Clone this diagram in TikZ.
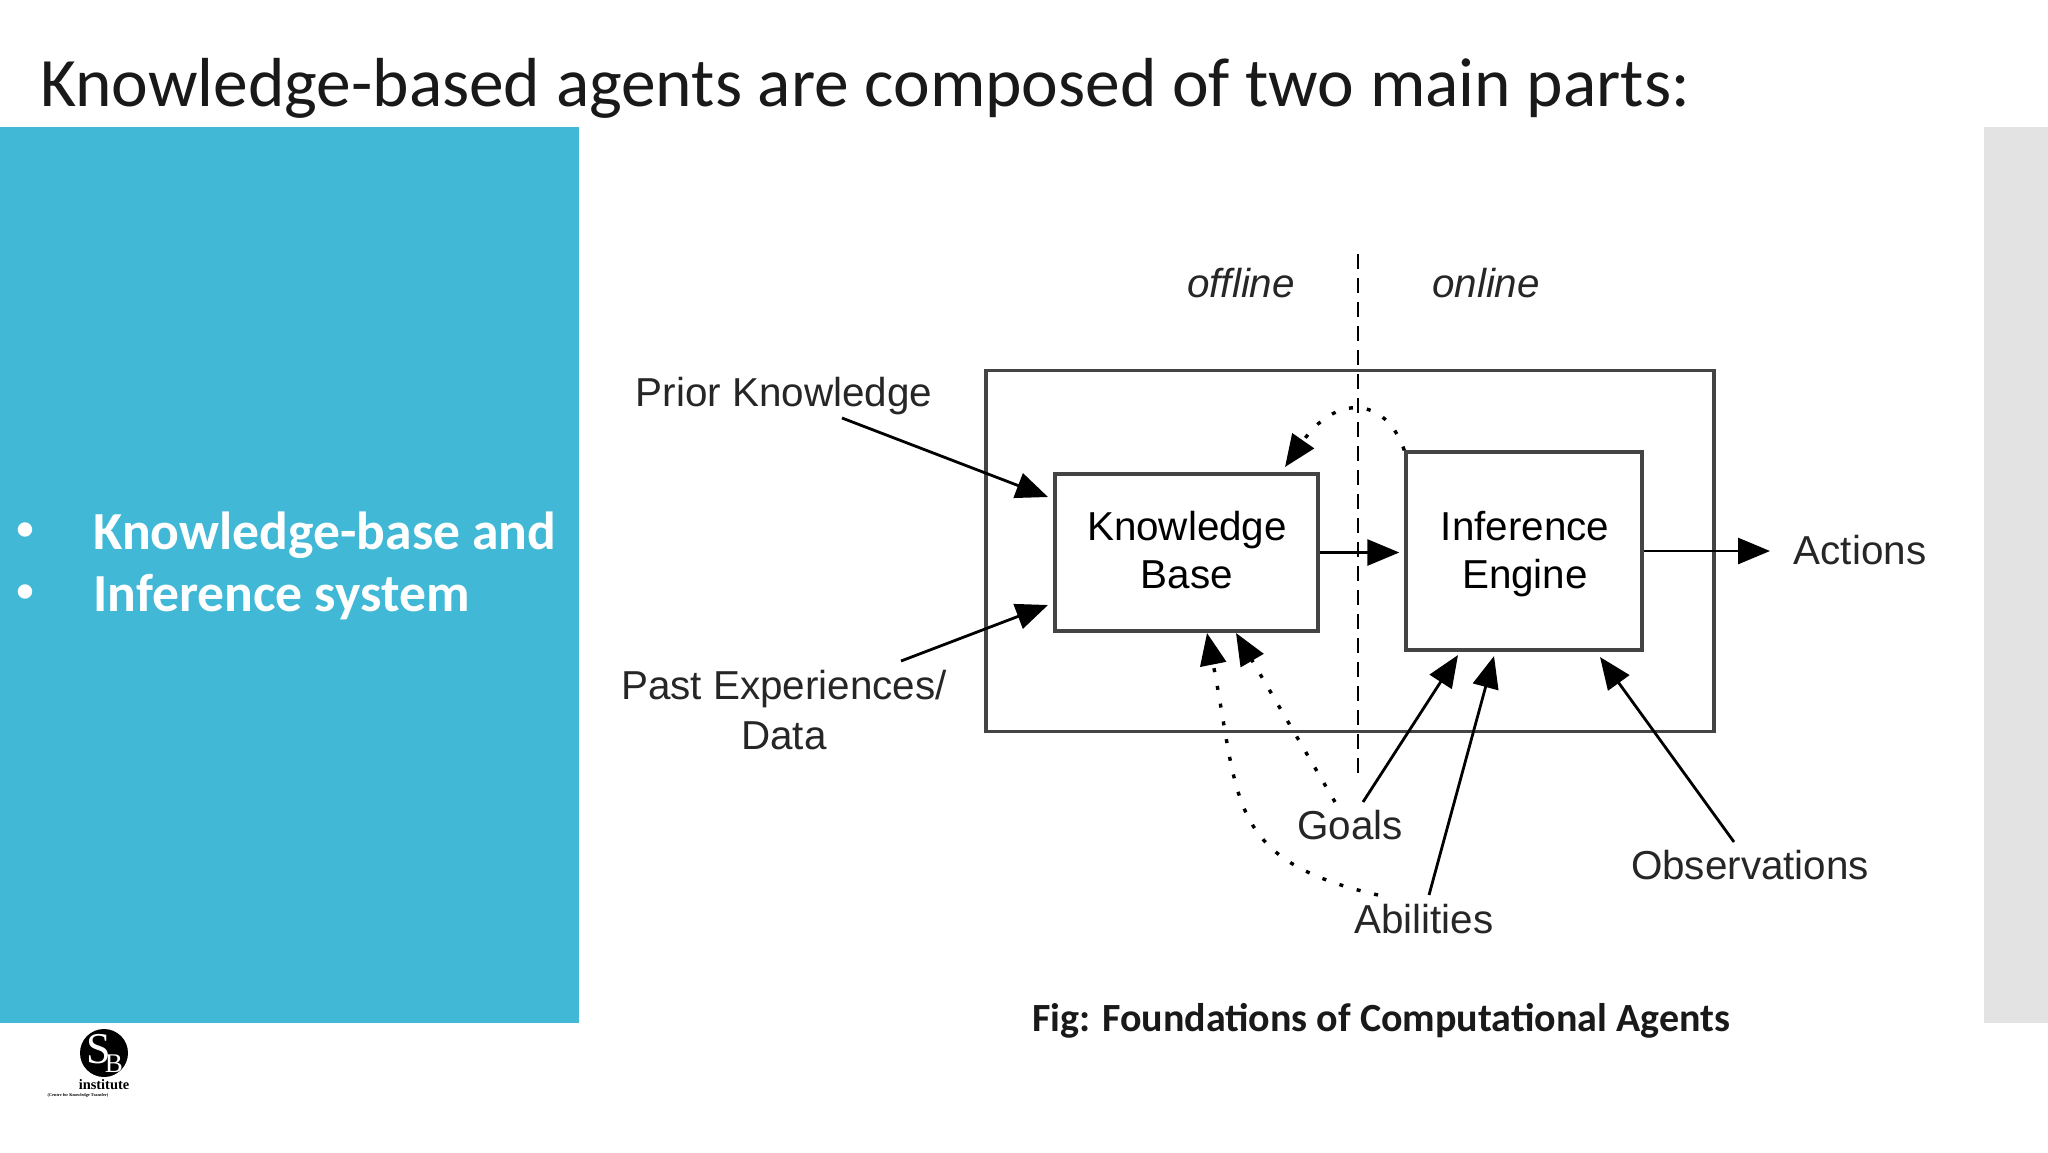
\documentclass[tikz,border=0pt]{standalone}
\usepackage{fontspec}
\setmainfont{Liberation Sans}
\newfontfamily\slidefont{Carlito}
\newfontfamily\logofont{Liberation Serif}
\usetikzlibrary{arrows.meta,positioning,calc}
\definecolor{panelblue}{HTML}{41B8D5}
\definecolor{panelgray}{HTML}{E3E3E3}
\definecolor{boxline}{HTML}{444444}
\tikzset{
    blockbox/.style={draw=boxline, line width=1.7pt, inner sep=0pt},
    blocktext/.style={align=center, inner sep=0pt, font=\fontsize{20.2}{24}\selectfont},
    diagramlabel/.style={align=center, inner sep=0pt, text=black!85, font=\fontsize{20.2}{25}\selectfont},
    solidarrow/.style={line width=1.4pt, -{Triangle[length=16pt,width=13pt]}},
    dotarrow/.style={line width=1.7pt, dash pattern=on 2pt off 7pt, -{Triangle[length=16pt,width=13pt]}},
    bulletline/.style={anchor=base west, inner sep=0pt, text=white, font=\slidefont\bfseries\fontsize{26.8}{30}\selectfont},
}
\begin{document}
\begin{tikzpicture}[x=0.5pt, y=-0.5pt]
    \useasboundingbox (0,0) rectangle (2048,1152);
    \fill[white] (0,0) rectangle (2048,1152);
    \fill[panelblue] (0,127) rectangle (579,1023);
    \fill[panelgray] (1984,127) rectangle (2048,1023);

    \node[anchor=base west, inner sep=0pt, text=black!90, font=\slidefont\fontsize{34.7}{38}\selectfont] (title) at (40,106) {Knowledge-based agents are composed of two main parts:};

    \node[inner sep=0pt, text=white, font=\slidefont\bfseries\fontsize{17}{20}\selectfont] (bulleta) at (25,531) {•};
    \node[inner sep=0pt, text=white, font=\slidefont\bfseries\fontsize{17}{20}\selectfont] (bulletb) at (25,593) {•};
    \node[bulletline] (itema) at (93,549) {Knowledge-base and};
    \node[bulletline] (itemb) at (93,611) {Inference system};

    % diagram boxes
    \node[blockbox, minimum width=364pt, minimum height=180.5pt] (agent) at (1350,551) {};
    \node[blockbox, minimum width=131.5pt, minimum height=78.5pt] (kb) at (1186.5,552.5) {};
    \node[blockbox, minimum width=118pt, minimum height=99pt] (ie) at (1524,551) {};
    \node[blocktext] (kbtext) at (1187,550) {Knowledge\\Base};
    \node[blocktext] (ietext) at (1525,554) {Inference\\Engine};

    \coordinate (top) at (1358,254);
    \coordinate (bottom) at (1358,776);
    \draw[line width=1.3pt, dash pattern=on 7.5pt off 4.5pt] (top) -- (bottom);

    % labels
    \node[diagramlabel, font=\itshape\fontsize{20.2}{25}\selectfont] (offline) at (1241,283) {offline};
    \node[diagramlabel, font=\itshape\fontsize{20.2}{25}\selectfont] (online) at (1486,283) {online};
    \node[diagramlabel] (prior) at (784,396) {Prior Knowledge};
    \node[diagramlabel] (past) at (784,710) {Past Experiences/\\Data};
    \node[diagramlabel] (actions) at (1860,550) {Actions};
    \node[diagramlabel] (goals) at (1350,825) {Goals};
    \node[diagramlabel] (abilities) at (1424,919) {Abilities};
    \node[diagramlabel] (observations) at (1750,865) {Observations};
    \node[inner sep=0pt, text=black!90, font=\slidefont\bfseries\fontsize{20}{22}\selectfont] (caption) at (1381,1021) {Fig: Foundations of Computational Agents};

    \coordinate (priorend) at (842,418);
    \coordinate (priortip) at (1048,497);
    \coordinate (pastend) at (901,661);
    \coordinate (pasttip) at (1048,605);
    \coordinate (goalsend) at (1363,802);
    \coordinate (goalstip) at (1458,655);
    \coordinate (abilend) at (1429,895);
    \coordinate (abiltip) at (1494,656);
    \coordinate (obsend) at (1734,842);
    \coordinate (obstip) at (1600,657);
    \coordinate (actend) at (1770,551);
    \draw[solidarrow] (priorend) -- (priortip);
    \draw[solidarrow] (pastend) -- (pasttip);
    \draw[solidarrow, shorten >=2.5pt] (kb.east) -- (kb.east -| ie.west);
    \draw[solidarrow] (ie.east) -- (actend);
    \draw[solidarrow] (goalsend) -- (goalstip);
    \draw[solidarrow] (abilend) -- (abiltip);
    \draw[solidarrow] (obsend) -- (obstip);

    % dotted
    \coordinate (loopend) at (1285,467);
    \coordinate (dotgoalsend) at (1335,802);
    \coordinate (dotgoalstip) at (1236,633);
    \coordinate (dotabilend) at (1378,895);
    \coordinate (dotabiltip) at (1207,633);
    \draw[dotarrow] (ie.north west) .. controls (1385,395) and (1335,395) .. (loopend);
    \draw[dotarrow] (dotgoalsend) -- (dotgoalstip);
    \draw[dotarrow] (dotabilend) .. controls (1225,860) and (1240,800) .. (dotabiltip);

    % logo
    \fill[black] (104,1053) circle (24);
    \node[inner sep=0pt, text=white, font=\logofont\fontsize{22}{22}\selectfont] (logos) at (99,1049) {S};
    \node[inner sep=0pt, text=white, font=\logofont\fontsize{13.5}{14}\selectfont] (logob) at (114,1064) {B};
    \node[inner sep=0pt, text=black, font=\logofont\bfseries\fontsize{7.2}{8}\selectfont] (institute) at (104,1085) {institute};
    \node[inner sep=0pt, text=black, font=\logofont\bfseries\fontsize{2.15}{3}\selectfont] (centre) at (78,1095) {(Centre for Knowledge Transfer)};
\end{tikzpicture}
\end{document}
